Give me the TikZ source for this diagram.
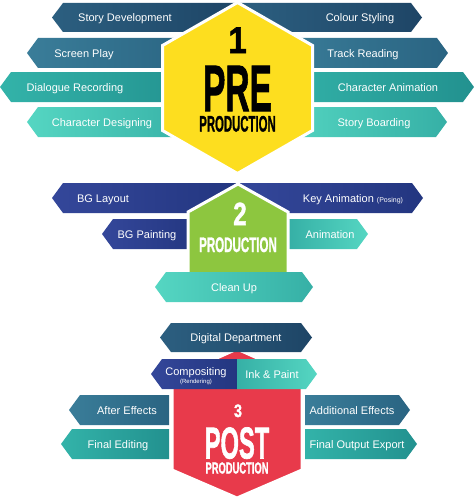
\documentclass[tikz,border=0pt]{standalone}
\usepackage{fontspec}
\setmainfont{Liberation Sans}
\newfontfamily\heavyfont[BoldFeatures={FakeBold=1.6}]{Liberation Sans}
\usepackage{graphicx}
\definecolor{caa}{HTML}{2C5F80}\definecolor{cab}{HTML}{1E4566}
\definecolor{cba}{HTML}{3A7D99}\definecolor{cbb}{HTML}{2A6482}
\definecolor{cca}{HTML}{33B3A9}\definecolor{ccb}{HTML}{22918F}
\definecolor{cda}{HTML}{55D6C2}\definecolor{cdb}{HTML}{36B0A6}
\definecolor{cna}{HTML}{34479A}\definecolor{cnb}{HTML}{233680}
\definecolor{yel}{HTML}{FDDE1F}
\definecolor{grn}{HTML}{8DC63F}
\definecolor{rd}{HTML}{E83A4B}
\newcommand{\lban}[5]{\path[#5] (#1,{(#3+#4)/2}) -- (#1+11,#3) -- (#2,#3) -- (#2,#4) -- (#1+11,#4) -- cycle;}
\newcommand{\rban}[5]{\path[#5] (#1,#3) -- (#2-11,#3) -- (#2,{(#3+#4)/2}) -- (#2-11,#4) -- (#1,#4) -- cycle;}
\newcommand{\bban}[5]{\path[#5] (#1,{(#3+#4)/2}) -- (#1+11,#3) -- (#2-11,#3) -- (#2,{(#3+#4)/2}) -- (#2-11,#4) -- (#1+11,#4) -- cycle;}
\newcommand{\bigtxt}[3]{\scalebox{#1}[1]{\heavyfont\fontsize{#2}{#2}\selectfont\bfseries #3}}
\begin{document}
\begin{tikzpicture}[x=1pt,y=-1pt,
  lbl/.style={text=white,font=\fontsize{11}{13}\selectfont,inner sep=0pt,anchor=base},
  big/.style={inner sep=0pt,anchor=base},
  g1/.style={left color=caa,right color=cab},
  g2/.style={left color=cba,right color=cbb},
  g3/.style={left color=cca,right color=ccb},
  g4/.style={left color=cda,right color=cdb},
  gn/.style={left color=cna,right color=cnb},
  g4r/.style={left color=cdb,right color=cda},
  frame/.style={draw=white,line width=3pt,line join=miter}]
\useasboundingbox (0,0) rectangle (474,503);
% ---------- PRE PRODUCTION ----------
\lban{52}{237}{3}{32}{g1}
\rban{240}{422}{3}{32}{g1}
\lban{27}{200}{38}{68}{g2}
\rban{275}{448}{38}{68}{g2}
\lban{0}{200}{72}{102}{g3}
\rban{275}{474}{72}{102}{g3}
\lban{27}{200}{107}{137}{g4}
\rban{275}{447}{107}{137}{g4}
\path[fill=yel,frame] (237.5,2.5) -- (312.5,45.5) -- (312.5,130.5) -- (237.5,173.5) -- (162.5,130.5) -- (162.5,45.5) -- cycle;
\node[lbl] (sd) at (125,21.5) {Story Development};
\node[lbl] (cs) at (360,21.5) {Colour Styling};
\node[lbl] (sp) at (84,57) {Screen Play};
\node[lbl] (tr) at (363,57) {Track Reading};
\node[lbl] (dr) at (75,91) {Dialogue Recording};
\node[lbl] (ca) at (388,91) {Character Animation};
\node[lbl] (cd) at (102,126) {Character Designing};
\node[lbl] (sb) at (374,126) {Story Boarding};
\node[big] (n1) at (237.5,53) {\bigtxt{0.9}{37}{1}};
\node[big] (pre) at (237.5,111) {\bigtxt{0.51}{65.6}{PRE}};
\node[big] (pp) at (237.5,131.5) {\bigtxt{0.51}{22.3}{PRODUCTION}};
% ---------- PRODUCTION ----------
\lban{52}{236}{183}{213}{gn}
\rban{240}{423}{183}{213}{gn}
\lban{102}{200}{219}{249}{gn}
\rban{289}{368}{219}{249}{g4r}
\path[fill=grn,frame] (238,184) -- (288,212) -- (288,280) -- (188,280) -- (188,212) -- cycle;
\bban{155}{313}{272}{302}{g4}
\node[lbl] (bgl) at (103,202) {BG Layout};
\node[lbl] (ka) at (353,202) {Key Animation {\fontsize{7}{8}\selectfont(Posing)}};
\node[lbl] (bgp) at (147,238) {BG Painting};
\node[lbl] (an) at (330,238) {Animation};
\node[lbl] (cu) at (234,291) {Clean Up};
\node[big,text=white] (n2) at (240,225) {\bigtxt{0.75}{32}{2}};
\node[big,text=white] (prod) at (238,252) {\bigtxt{0.55}{21}{PRODUCTION}};
% ---------- POST PRODUCTION ----------
\path[fill=rd,frame] (237,349) -- (302,378) -- (302,470) -- (237,498) -- (172,470) -- (172,378) -- cycle;
\bban{160}{312}{323}{352}{g1}
\lban{151}{237}{359}{389}{gn}
\rban{237}{317}{359}{389}{g4r}
\lban{69}{169}{395}{425}{g2}
\rban{305}{410}{395}{425}{g2}
\lban{61}{169}{429}{459}{g3}
\rban{305}{417}{429}{459}{g3}
\node[lbl] (dd) at (236,341.5) {Digital Department};
\node[lbl] (co) at (196,375) {Compositing};
\node[lbl,font=\fontsize{6}{7}\selectfont] (re) at (196,383.5) {(Rendering)};
\node[lbl] (ip) at (272,378) {Ink \& Paint};
\node[lbl] (ae) at (127,414) {After Effects};
\node[lbl] (ad) at (352,414) {Additional Effects};
\node[lbl] (fe) at (118,448) {Final Editing};
\node[lbl] (fo) at (357,448) {Final Output Export};
\node[big,text=white] (n3) at (238,417) {\bigtxt{0.8}{18}{3}};
\node[big,text=white] (post) at (237,458.5) {\bigtxt{0.53}{44.7}{POST}};
\node[big,text=white] (pp3) at (237,473.5) {\bigtxt{0.585}{16}{PRODUCTION}};
\end{tikzpicture}
\end{document}
